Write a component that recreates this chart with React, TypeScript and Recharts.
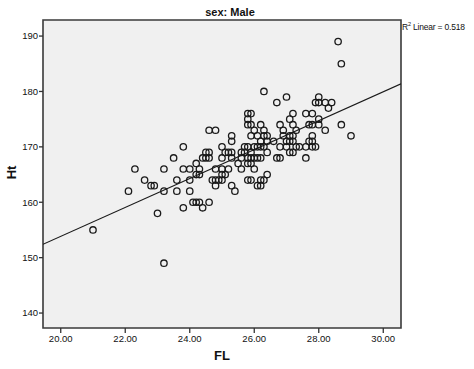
import React from "react";
import {
  ScatterChart,
  Scatter,
  XAxis,
  YAxis,
  CartesianGrid,
  ReferenceLine,
  ReferenceArea,
} from "recharts";

const chartTitle = "sex: Male";
const xLabel = "FL";
const yLabel = "Ht";
const r2Text = "0.518";

const xTicks = [20, 22, 24, 26, 28, 30];
const yTicks = [140, 150, 160, 170, 180, 190];
const xDomain: [number, number] = [19.45, 30.55];
const yDomain: [number, number] = [137.3, 192.9];

const flValues = [
  21.0, 22.1, 22.3, 22.6, 22.8, 22.9, 23.0, 23.2, 23.2, 23.2, 23.5, 23.6, 23.6, 23.8, 23.8, 23.8,
  24.0, 24.0, 24.0, 24.1, 24.2, 24.2, 24.3, 24.3, 24.3, 24.4, 24.2, 24.6, 24.4, 24.5, 24.6, 24.5,
  24.6, 24.6, 24.8, 24.7, 24.8, 24.9, 24.8, 24.8, 25.0, 25.0, 25.0, 25.0, 25.1, 25.0, 25.1, 25.2,
  25.3, 25.2, 25.3, 25.3, 25.3, 25.3, 25.4, 25.5, 25.6, 25.7, 25.6, 25.6, 25.7, 25.8, 25.8, 25.9,
  25.8, 25.8, 25.9, 26.0, 25.9, 25.9, 25.8, 25.9, 25.8, 25.9, 25.8, 25.9, 26.0, 26.1, 26.0, 26.1,
  26.2, 26.0, 26.1, 26.2, 26.2, 26.3, 26.4, 26.2, 26.3, 26.3, 26.1, 26.3, 26.4, 26.2, 26.4, 26.6,
  26.2, 26.3, 26.4, 26.7, 27.0, 26.8, 26.9, 26.9, 27.1, 27.2, 27.0, 27.1, 27.2, 26.8, 27.0, 26.7,
  26.8, 27.1, 27.2, 27.1, 27.2, 27.2, 27.3, 27.3, 27.4, 27.6, 27.8, 27.7, 27.8, 27.6, 27.8, 27.9,
  27.6, 27.7, 27.8, 27.8, 27.9, 28.0, 28.0, 28.2, 28.4, 28.3, 28.0, 28.0, 28.2, 28.7, 28.6, 28.7,
  29.0,
];
const htValues = [
  155, 162, 166, 164, 163, 163, 158, 149, 162, 166, 168, 164, 162, 170, 166, 159,
  166, 164, 162, 160, 167, 165, 165, 166, 160, 159, 160, 160, 168, 168, 168, 169,
  169, 173, 173, 164, 164, 164, 166, 163, 170, 168, 166, 165, 165, 164, 169, 169,
  169, 166, 172, 171, 168, 163, 162, 167, 169, 169, 168, 166, 170, 170, 176, 176,
  175, 174, 174, 173, 172, 169, 168, 168, 167, 167, 164, 164, 170, 170, 168, 168,
  168, 166, 163, 163, 164, 164, 165, 174, 180, 173, 172, 172, 172, 171, 171, 171,
  170, 170, 169, 178, 179, 174, 173, 172, 172, 172, 171, 171, 171, 170, 170, 168,
  168, 169, 169, 175, 176, 174, 173, 170, 170, 176, 176, 174, 174, 170, 170, 170,
  168, 171, 171, 172, 178, 178, 179, 178, 178, 177, 175, 174, 173, 174, 189, 185,
  172,
];

const points = flValues.map((fl, i) => ({ fl, ht: htValues[i] }));

// least-squares fit from the data
const n = points.length;
const mx = flValues.reduce((a, b) => a + b, 0) / n;
const my = htValues.reduce((a, b) => a + b, 0) / n;
let sxy = 0;
let sxx = 0;
points.forEach((p) => {
  sxy += (p.fl - mx) * (p.ht - my);
  sxx += (p.fl - mx) * (p.fl - mx);
});
const slope = sxy / sxx;
const intercept = my - slope * mx;
const fitAt = (x: number) => intercept + slope * x;

const FONT = "'Liberation Sans', Arial, sans-serif";

const OpenCircle = (props: any) => {
  const { cx, cy } = props;
  if (cx == null || cy == null) return null;
  return <circle cx={cx} cy={cy} r={3.2} fill="none" stroke="#1a1a1a" strokeWidth={1.3} />;
};

export default function App() {
  return (
    <div style={{ position: "absolute", left: 0, top: 0, width: 474, height: 369, background: "#fff", fontFamily: FONT, overflow: "hidden" }}>
      <ScatterChart
        width={474}
        height={369}
        margin={{ top: 20, right: 73, bottom: 0, left: 0 }}
      >
        <CartesianGrid horizontal={false} vertical={false} fill="#f0f0f0" />
        <XAxis
          type="number"
          dataKey="fl"
          domain={xDomain}
          ticks={xTicks}
          allowDataOverflow
          tickFormatter={(v: number) => v.toFixed(2)}
          height={41}
          tickSize={5}
          tickMargin={2}
          axisLine={false}
          tickLine={{ stroke: "#333", strokeWidth: 1.3 }}
          tick={{ fill: "#111", fontSize: 9.5, fontFamily: FONT }}
          interval={0}
        />
        <YAxis
          type="number"
          dataKey="ht"
          domain={yDomain}
          ticks={yTicks}
          allowDataOverflow
          width={43}
          tickSize={4}
          tickMargin={1}
          axisLine={false}
          tickLine={{ stroke: "#333", strokeWidth: 1.3 }}
          tick={{ fill: "#111", fontSize: 9.5, fontFamily: FONT }}
          interval={0}
        />
        <ReferenceArea
          x1={xDomain[0]}
          x2={xDomain[1]}
          y1={yDomain[0]}
          y2={yDomain[1]}
          fill="none"
          stroke="#3a3a3a"
          strokeWidth={1.6}
          ifOverflow="visible"
        />
        <ReferenceLine
          segment={[
            { x: xDomain[0], y: fitAt(xDomain[0]) },
            { x: xDomain[1], y: fitAt(xDomain[1]) },
          ]}
          stroke="#1a1a1a"
          strokeWidth={1.2}
          ifOverflow="hidden"
        />
        <Scatter data={points} shape={<OpenCircle />} isAnimationActive={false} />
      </ScatterChart>
      <div style={{ position: "absolute", left: 130, width: 200, top: 6, textAlign: "center", fontSize: 11, fontWeight: "bold", color: "#111" }}>
        {chartTitle}
      </div>
      <div style={{ position: "absolute", left: 402, top: 22, fontSize: 8.5, letterSpacing: -0.2, color: "#111", whiteSpace: "nowrap" }}>
        R<sup style={{ fontSize: 5.5, verticalAlign: "top", lineHeight: 1 }}>2</sup> Linear = {r2Text}
      </div>
      <div style={{ position: "absolute", left: 172, width: 100, top: 348, textAlign: "center", fontSize: 13, fontWeight: "bold", color: "#111" }}>
        {xLabel}
      </div>
      <div style={{ position: "absolute", left: 5, top: 165, fontSize: 13, fontWeight: "bold", color: "#111", transform: "rotate(-90deg)", transformOrigin: "center" }}>
        {yLabel}
      </div>
    </div>
  );
}
